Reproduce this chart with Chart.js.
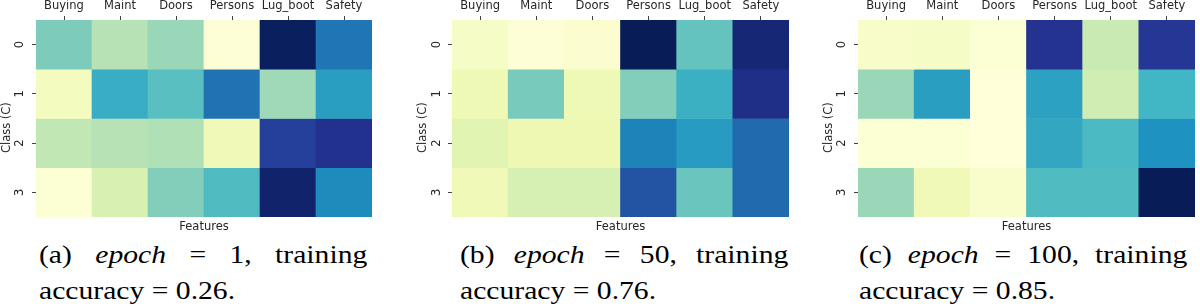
<!DOCTYPE html>
<html>
<head>
<meta charset="utf-8">
<script src="https://cdn.jsdelivr.net/npm/chart.js@4.4.0/dist/chart.umd.min.js"></script>
<style>
 body { margin: 0; background: #fff; width: 1200px; height: 306px; position: relative; overflow: hidden; }
 .panel { position: absolute; top: 0; }
 /* CM-like captions: Times glyphs stretched a bit to get the wider Computer Modern look */
 .caption { position: absolute; top: 237px; width: 288px; font-family: "Liberation Serif", serif; font-size: 26px; line-height: 36px; color: #000; transform: scaleX(1.14); transform-origin: left top; }
 .caption .l1 { text-align: justify; text-align-last: justify; white-space: nowrap; }
</style>
</head>
<body>
<div class="panel" style="left:0px"><canvas id="chartA" width="372" height="237"></canvas></div>
<div class="panel" style="left:416px"><canvas id="chartB" width="373" height="237"></canvas></div>
<div class="panel" style="left:822px"><canvas id="chartC" width="373" height="237"></canvas></div>

<div class="caption" style="left:39px">
 <div class="l1">(a) <i>epoch</i> = 1, training</div>
 <div>accuracy = 0.26.</div>
</div>
<div class="caption" style="left:460px">
 <div class="l1">(b) <i>epoch</i> = 50, training</div>
 <div>accuracy = 0.76.</div>
</div>
<div class="caption" style="left:859px">
 <div class="l1">(c) <i>epoch</i> = 100, training</div>
 <div>accuracy = 0.85.</div>
</div>

<script>
const features = ['Buying', 'Maint', 'Doors', 'Persons', 'Lug_boot', 'Safety'];
const classes = ['0', '1', '2', '3'];

// weight per class (row) and feature (column), 0..1 on the colour scale
const epoch1 = [
 [0.38, 0.28, 0.33, 0.01, 0.99, 0.69],
 [0.08, 0.53, 0.45, 0.70, 0.32, 0.58],
 [0.26, 0.28, 0.29, 0.10, 0.84, 0.89],
 [0.02, 0.19, 0.37, 0.47, 0.96, 0.64]
];
const epoch50 = [
 [0.06, 0.01, 0.03, 1.00, 0.43, 0.94],
 [0.11, 0.39, 0.11, 0.37, 0.52, 0.90],
 [0.16, 0.12, 0.12, 0.66, 0.59, 0.72],
 [0.10, 0.20, 0.20, 0.78, 0.42, 0.72]
];
const epoch100 = [
 [0.05, 0.06, 0.02, 0.88, 0.24, 0.87],
 [0.33, 0.58, 0.00, 0.57, 0.22, 0.50],
 [0.02, 0.02, 0.00, 0.55, 0.48, 0.62],
 [0.33, 0.10, 0.04, 0.47, 0.47, 1.00]
];

// YlGnBu colour map
const ylgnbu = ['#ffffd9', '#edf8b1', '#c7e9b4', '#7fcdbb', '#41b6c4', '#1d91c0', '#225ea8', '#253494', '#081d58'];

function hexToRgb(h) {
 return [parseInt(h.substr(1, 2), 16), parseInt(h.substr(3, 2), 16), parseInt(h.substr(5, 2), 16)];
}

function colorFor(v) {
 const t = Math.max(0, Math.min(1, v)) * (ylgnbu.length - 1);
 const i = Math.min(Math.floor(t), ylgnbu.length - 2);
 const f = t - i;
 const a = hexToRgb(ylgnbu[i]);
 const b = hexToRgb(ylgnbu[i + 1]);
 const c = a.map((x, k) => Math.round(x + (b[k] - x) * f));
 return `rgb(${c[0]}, ${c[1]}, ${c[2]})`;
}

const textColor = '#262626';
const labelFont = { family: 'DejaVu Sans', size: 11.5 };

function drawHeatmap(id, values, opts) {
 const datasets = classes.map((c, r) => ({
  label: 'Class ' + c,
  data: features.map(() => [r, r + 1]),
  backgroundColor: values[r].map(colorFor),
  borderWidth: 0,
  barPercentage: 1,
  categoryPercentage: 1,
  grouped: false,
  xAxisID: 'x',
  yAxisID: 'y'
 }));

 new Chart(document.getElementById(id), {
  type: 'bar',
  data: { labels: features, datasets: datasets },
  options: {
   responsive: false,
   animation: false,
   layout: { padding: 0 },
   plugins: { legend: { display: false }, tooltip: { enabled: false } },
   scales: {
    x: {
     position: 'top',
     offset: true,
     grid: { offset: false, drawOnChartArea: false, tickLength: 4, color: '#444' },
     border: { display: false },
     ticks: { font: labelFont, color: textColor, padding: 3, maxRotation: 0, autoSkip: false },
     afterFit: (s) => { s.height = 20; }
    },
    x2: {
     type: 'category',
     position: 'bottom',
     offset: true,
     grid: { display: false },
     border: { display: false },
     ticks: { display: false },
     title: { display: true, text: 'Features', font: labelFont, color: textColor, padding: { top: 0, bottom: 3 } },
     afterFit: (s) => { s.height = 20; }
    },
    y: {
     type: 'linear',
     min: 0,
     max: 4,
     reverse: true,
     afterBuildTicks: (s) => { s.ticks = classes.map((c, i) => ({ value: i + 0.5 })); },
     grid: { drawOnChartArea: false, tickLength: 4, color: '#444' },
     border: { display: false },
     ticks: {
      callback: (v) => classes[Math.floor(v)],
      minRotation: 90, maxRotation: 90,
      crossAlign: 'center',
      padding: opts.tickPad,
      font: labelFont, color: textColor
     },
     // trailing spaces push the label a little below the axis middle, as in the figure
     title: { display: true, text: 'Class (C)     ', font: labelFont, color: textColor, padding: { top: opts.titlePad, bottom: 0 } },
     afterFit: (s) => { s.width = 36; }
    }
   }
  }
 });
}

drawHeatmap('chartA', epoch1, { tickPad: 8, titlePad: 0 });
drawHeatmap('chartB', epoch50, { tickPad: 7, titlePad: 0 });
drawHeatmap('chartC', epoch100, { tickPad: 8, titlePad: 0 });
</script>
</body>
</html>
